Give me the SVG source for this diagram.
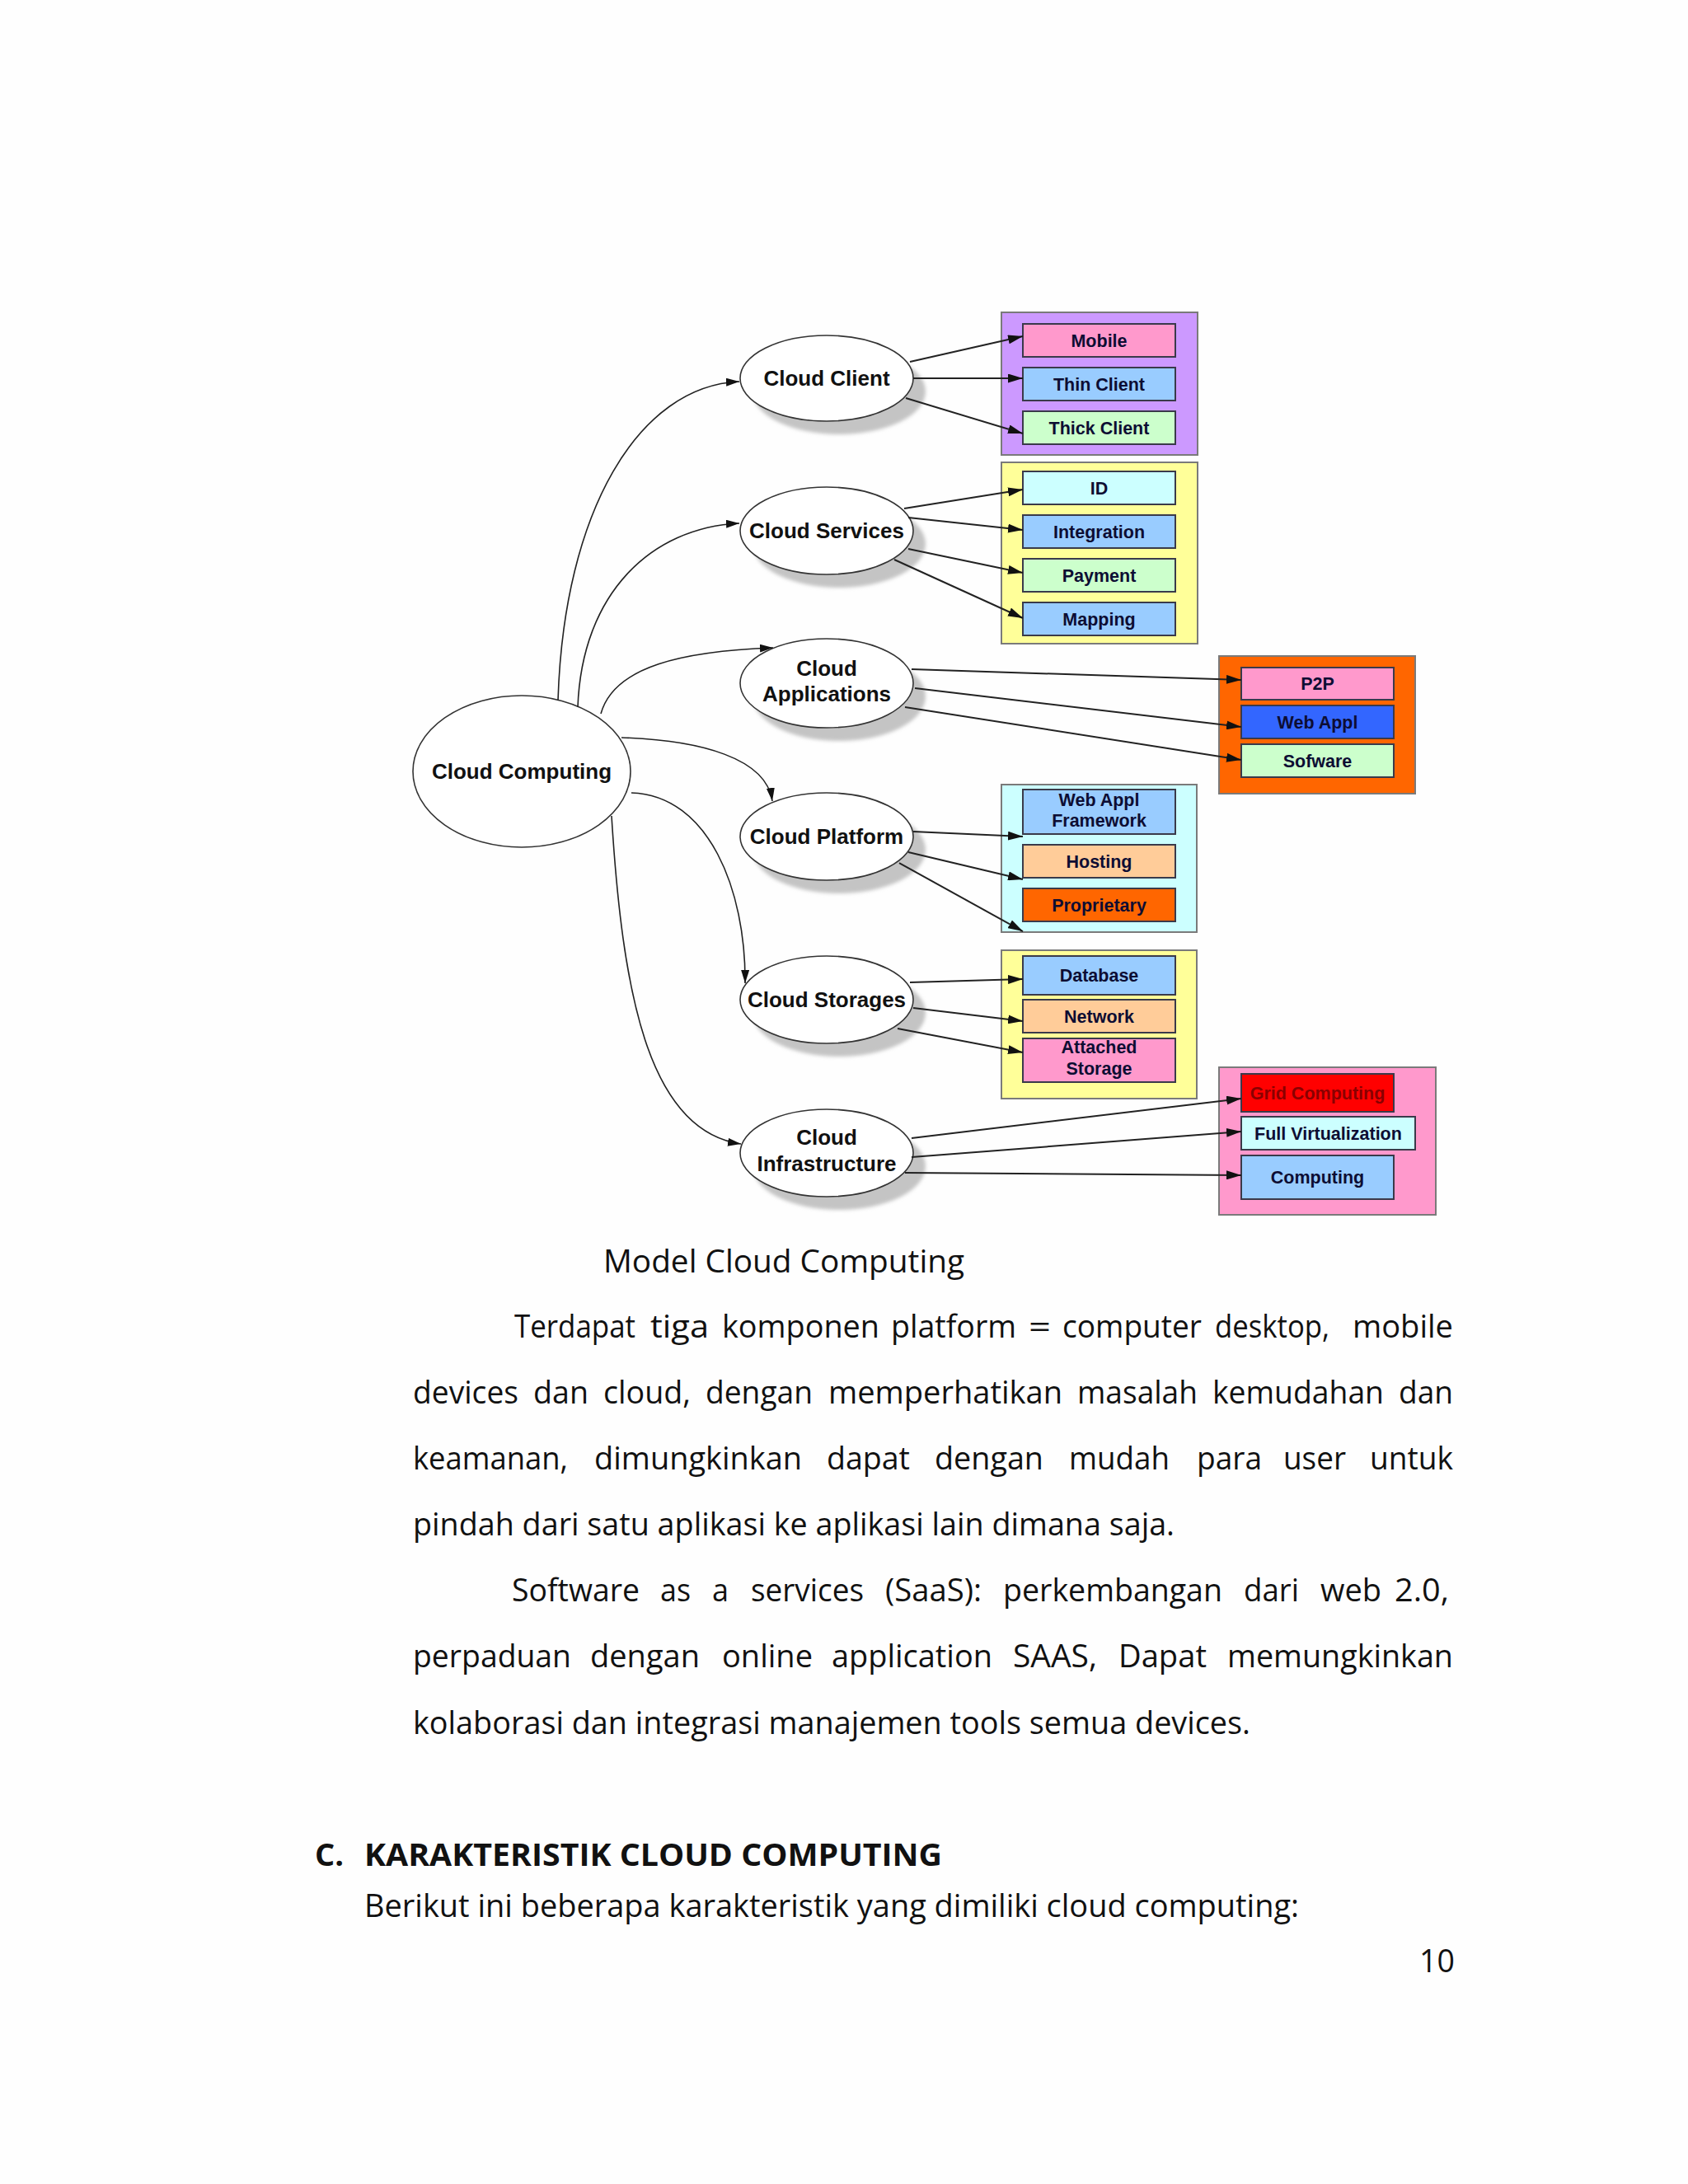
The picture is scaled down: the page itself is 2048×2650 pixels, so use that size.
<svg xmlns="http://www.w3.org/2000/svg" width="2048" height="2650" viewBox="0 0 2048 2650">
<style>
.ell{fill:#fff;stroke:#333;stroke-width:1.6}
.shd{fill:#c4c4c4}
.nl{font-family:"Liberation Sans",Arial,sans-serif;font-weight:bold;font-size:26px;text-anchor:middle;fill:#111}
.grp{stroke:#7a7a7a;stroke-width:2}
.box{stroke:#3a3a4a;stroke-width:2}
.bl{font-family:"Liberation Sans",Arial,sans-serif;font-weight:bold;font-size:21.5px;text-anchor:middle;fill:#0d0d33}
.cc{fill:none;stroke:#222;stroke-width:1.6}
.ca{fill:none;stroke:#222;stroke-width:2}
.body{font-family:"Open Sans","Noto Sans",sans-serif;font-size:37.5px;fill:#111}
.hd{font-family:"Open Sans","Noto Sans",sans-serif;font-weight:bold;font-size:38px;fill:#111}
</style>
<defs>
<marker id="ah" viewBox="0 0 18 11" refX="18" refY="5.5" markerWidth="18" markerHeight="11" markerUnits="userSpaceOnUse" orient="auto"><path d="M0,0 L18,5.5 L0,11 z" fill="#111"/></marker>
<marker id="ahs" viewBox="0 0 16 10" refX="16" refY="5" markerWidth="16" markerHeight="10" markerUnits="userSpaceOnUse" orient="auto"><path d="M0,0 L16,5 L0,10 z" fill="#111"/></marker>
<filter id="blur" x="-20%" y="-20%" width="140%" height="140%"><feGaussianBlur stdDeviation="2"/></filter>
</defs>
<rect width="2048" height="2650" fill="#fefefe"/>

<!-- group boxes -->
<g id="grp-client"><rect class="grp" x="1215" y="379" width="238" height="173" fill="#cc99ff"/></g>
<g id="grp-services"><rect class="grp" x="1215" y="561" width="238" height="220" fill="#ffff99"/></g>
<g id="grp-apps"><rect class="grp" x="1479" y="796" width="238" height="167" fill="#ff6600"/></g>
<g id="grp-platform"><rect class="grp" x="1215" y="952" width="237" height="179" fill="#ccffff"/></g>
<g id="grp-storages"><rect class="grp" x="1215" y="1153" width="237" height="180" fill="#ffff99"/></g>
<g id="grp-infra"><rect class="grp" x="1479" y="1295" width="263" height="179" fill="#ff99cc"/></g>

<!-- leaf boxes -->
<g id="mobile"><rect class="box" x="1241" y="393" width="185" height="40" fill="#ff99cc"/><text class="bl" x="1333.5" y="421">Mobile</text></g>
<g id="thin-client"><rect class="box" x="1241" y="446" width="185" height="40" fill="#99ccff"/><text class="bl" x="1333.5" y="474">Thin Client</text></g>
<g id="thick-client"><rect class="box" x="1241" y="499" width="185" height="40" fill="#ccffcc"/><text class="bl" x="1333.5" y="527">Thick Client</text></g>

<g id="id"><rect class="box" x="1241" y="572" width="185" height="40" fill="#ccffff"/><text class="bl" x="1333.5" y="600">ID</text></g>
<g id="integration"><rect class="box" x="1241" y="625" width="185" height="40" fill="#99ccff"/><text class="bl" x="1333.5" y="653">Integration</text></g>
<g id="payment"><rect class="box" x="1241" y="678" width="185" height="40" fill="#ccffcc"/><text class="bl" x="1333.5" y="706">Payment</text></g>
<g id="mapping"><rect class="box" x="1241" y="731" width="185" height="40" fill="#99ccff"/><text class="bl" x="1333.5" y="759">Mapping</text></g>

<g id="p2p"><rect class="box" x="1506" y="810" width="185" height="39" fill="#ff99cc"/><text class="bl" x="1598.5" y="837">P2P</text></g>
<g id="web-appl"><rect class="box" x="1506" y="856" width="185" height="40" fill="#3366ff"/><text class="bl" x="1598.5" y="884">Web Appl</text></g>
<g id="sofware"><rect class="box" x="1506" y="903" width="185" height="40" fill="#ccffcc"/><text class="bl" x="1598.5" y="931">Sofware</text></g>

<g id="web-appl-framework"><rect class="box" x="1241" y="958" width="185" height="54" fill="#99ccff"/><text class="bl" x="1333.5" y="978">Web Appl</text><text class="bl" x="1333.5" y="1003">Framework</text></g>
<g id="hosting"><rect class="box" x="1241" y="1025" width="185" height="40" fill="#ffcc99"/><text class="bl" x="1333.5" y="1053">Hosting</text></g>
<g id="proprietary"><rect class="box" x="1241" y="1078" width="185" height="40" fill="#ff6600"/><text class="bl" x="1333.5" y="1106">Proprietary</text></g>

<g id="database"><rect class="box" x="1241" y="1160" width="185" height="47" fill="#99ccff"/><text class="bl" x="1333.5" y="1191">Database</text></g>
<g id="network"><rect class="box" x="1241" y="1213" width="185" height="40" fill="#ffcc99"/><text class="bl" x="1333.5" y="1241">Network</text></g>
<g id="attached-storage"><rect class="box" x="1241" y="1260" width="185" height="53" fill="#ff99cc"/><text class="bl" x="1333.5" y="1278">Attached</text><text class="bl" x="1333.5" y="1304">Storage</text></g>

<g id="grid-computing"><rect class="box" x="1506" y="1303" width="185" height="46" fill="#ff0000"/><text class="bl" x="1598.5" y="1334" style="fill:#8a0000">Grid Computing</text></g>
<g id="full-virtualization"><rect class="box" x="1506" y="1355" width="211" height="40" fill="#ccffff"/><text class="bl" x="1611.5" y="1383">Full Virtualization</text></g>
<g id="computing"><rect class="box" x="1506" y="1402" width="185" height="53" fill="#99ccff"/><text class="bl" x="1598.5" y="1436">Computing</text></g>

<!-- ellipse nodes -->
<g id="cloud-computing"><ellipse class="ell" cx="633" cy="936" rx="132" ry="92"/><text class="nl" x="633" y="945">Cloud Computing</text></g>
<g id="cloud-client"><ellipse class="shd" cx="1018" cy="475" rx="105" ry="52" filter="url(#blur)"/><ellipse class="ell" cx="1003" cy="459" rx="105" ry="52"/><text class="nl" x="1003" y="468">Cloud Client</text></g>
<g id="cloud-services"><ellipse class="shd" cx="1018" cy="660" rx="105" ry="53" filter="url(#blur)"/><ellipse class="ell" cx="1003" cy="644" rx="105" ry="53"/><text class="nl" x="1003" y="653">Cloud Services</text></g>
<g id="cloud-applications"><ellipse class="shd" cx="1018" cy="845" rx="105" ry="54" filter="url(#blur)"/><ellipse class="ell" cx="1003" cy="829" rx="105" ry="54"/><text class="nl" x="1003" y="820">Cloud</text><text class="nl" x="1003" y="851">Applications</text></g>
<g id="cloud-platform"><ellipse class="shd" cx="1018" cy="1031" rx="105" ry="53" filter="url(#blur)"/><ellipse class="ell" cx="1003" cy="1015" rx="105" ry="53"/><text class="nl" x="1003" y="1024">Cloud Platform</text></g>
<g id="cloud-storages"><ellipse class="shd" cx="1018" cy="1229" rx="105" ry="53" filter="url(#blur)"/><ellipse class="ell" cx="1003" cy="1213" rx="105" ry="53"/><text class="nl" x="1003" y="1222">Cloud Storages</text></g>
<g id="cloud-infrastructure"><ellipse class="shd" cx="1018" cy="1415" rx="105" ry="53" filter="url(#blur)"/><ellipse class="ell" cx="1003" cy="1399" rx="105" ry="53"/><text class="nl" x="1003" y="1389">Cloud</text><text class="nl" x="1003" y="1421">Infrastructure</text></g>

<!-- connectors -->
<g id="connectors">
<path class="cc" marker-end="url(#ahs)" d="M677 850 C684 620 775 468 897 463"/>
<path class="cc" marker-end="url(#ahs)" d="M701 858 C706 720 790 640 897 635"/>
<path class="cc" marker-end="url(#ahs)" d="M729 866 C745 808 830 790 938 786"/>
<path class="cc" marker-end="url(#ahs)" d="M754 895 C850 898 930 920 937 972"/>
<path class="cc" marker-end="url(#ahs)" d="M766 962 C860 965 905 1080 904 1193"/>
<path class="cc" marker-end="url(#ahs)" d="M742 990 C755 1200 785 1372 899 1388"/>

<line class="ca" marker-end="url(#ah)" x1="1104" y1="439" x2="1241" y2="408"/>
<line class="ca" marker-end="url(#ah)" x1="1108" y1="459" x2="1241" y2="459"/>
<line class="ca" marker-end="url(#ah)" x1="1099" y1="483" x2="1241" y2="526"/>

<line class="ca" marker-end="url(#ah)" x1="1097" y1="617" x2="1241" y2="594"/>
<line class="ca" marker-end="url(#ah)" x1="1102" y1="628" x2="1241" y2="643"/>
<line class="ca" marker-end="url(#ah)" x1="1102" y1="666" x2="1241" y2="695"/>
<line class="ca" marker-end="url(#ah)" x1="1085" y1="679" x2="1241" y2="750"/>

<line class="ca" marker-end="url(#ah)" x1="1106" y1="812" x2="1506" y2="825"/>
<line class="ca" marker-end="url(#ah)" x1="1110" y1="835" x2="1506" y2="882"/>
<line class="ca" marker-end="url(#ah)" x1="1098" y1="858" x2="1506" y2="922"/>

<line class="ca" marker-end="url(#ah)" x1="1108" y1="1009" x2="1241" y2="1015"/>
<line class="ca" marker-end="url(#ah)" x1="1102" y1="1034" x2="1241" y2="1067"/>
<line class="ca" marker-end="url(#ah)" x1="1091" y1="1047" x2="1241" y2="1130"/>

<line class="ca" marker-end="url(#ah)" x1="1104" y1="1192" x2="1241" y2="1188"/>
<line class="ca" marker-end="url(#ah)" x1="1108" y1="1223" x2="1241" y2="1239"/>
<line class="ca" marker-end="url(#ah)" x1="1089" y1="1248" x2="1241" y2="1277"/>

<line class="ca" marker-end="url(#ah)" x1="1106" y1="1381" x2="1506" y2="1333"/>
<line class="ca" marker-end="url(#ah)" x1="1106" y1="1404" x2="1506" y2="1373"/>
<line class="ca" marker-end="url(#ah)" x1="1098" y1="1423" x2="1506" y2="1426"/>
</g>

<!-- page text -->
<text class="body" x="732" y="1544" textLength="438" lengthAdjust="spacingAndGlyphs">Model Cloud Computing</text>

<g id="line1">
<text class="body" x="624" y="1623" textLength="147" lengthAdjust="spacingAndGlyphs">Terdapat</text>
<text class="body" x="789" y="1623" textLength="71" lengthAdjust="spacingAndGlyphs">tiga</text>
<text class="body" x="876" y="1623" textLength="191" lengthAdjust="spacingAndGlyphs">komponen</text>
<text class="body" x="1081" y="1623" textLength="152" lengthAdjust="spacingAndGlyphs">platform</text>
<text class="body" x="1248" y="1623" textLength="27" lengthAdjust="spacingAndGlyphs">=</text>
<text class="body" x="1289" y="1623" textLength="169" lengthAdjust="spacingAndGlyphs">computer</text>
<text class="body" x="1474" y="1623" textLength="139" lengthAdjust="spacingAndGlyphs">desktop,</text>
<text class="body" x="1641" y="1623" textLength="122" lengthAdjust="spacingAndGlyphs">mobile</text>
</g>
<g id="line2">
<text class="body" x="501" y="1703" textLength="128" lengthAdjust="spacingAndGlyphs">devices</text>
<text class="body" x="647" y="1703" textLength="67" lengthAdjust="spacingAndGlyphs">dan</text>
<text class="body" x="732" y="1703" textLength="106" lengthAdjust="spacingAndGlyphs">cloud,</text>
<text class="body" x="856" y="1703" textLength="130" lengthAdjust="spacingAndGlyphs">dengan</text>
<text class="body" x="1005" y="1703" textLength="284" lengthAdjust="spacingAndGlyphs">memperhatikan</text>
<text class="body" x="1307" y="1703" textLength="146" lengthAdjust="spacingAndGlyphs">masalah</text>
<text class="body" x="1471" y="1703" textLength="208" lengthAdjust="spacingAndGlyphs">kemudahan</text>
<text class="body" x="1697" y="1703" textLength="66" lengthAdjust="spacingAndGlyphs">dan</text>
</g>
<g id="line3">
<text class="body" x="501" y="1783" textLength="188" lengthAdjust="spacingAndGlyphs">keamanan,</text>
<text class="body" x="721" y="1783" textLength="252" lengthAdjust="spacingAndGlyphs">dimungkinkan</text>
<text class="body" x="1003" y="1783" textLength="101" lengthAdjust="spacingAndGlyphs">dapat</text>
<text class="body" x="1134" y="1783" textLength="132" lengthAdjust="spacingAndGlyphs">dengan</text>
<text class="body" x="1297" y="1783" textLength="122" lengthAdjust="spacingAndGlyphs">mudah</text>
<text class="body" x="1452" y="1783" textLength="79" lengthAdjust="spacingAndGlyphs">para</text>
<text class="body" x="1557" y="1783" textLength="76" lengthAdjust="spacingAndGlyphs">user</text>
<text class="body" x="1662" y="1783" textLength="101" lengthAdjust="spacingAndGlyphs">untuk</text>
</g>
<text class="body" x="501" y="1863" textLength="924" lengthAdjust="spacingAndGlyphs">pindah dari satu aplikasi ke aplikasi lain dimana saja.</text>
<g id="line5">
<text class="body" x="621" y="1943" textLength="155" lengthAdjust="spacingAndGlyphs">Software</text>
<text class="body" x="801" y="1943" textLength="37" lengthAdjust="spacingAndGlyphs">as</text>
<text class="body" x="864" y="1943" textLength="20" lengthAdjust="spacingAndGlyphs">a</text>
<text class="body" x="911" y="1943" textLength="137" lengthAdjust="spacingAndGlyphs">services</text>
<text class="body" x="1074" y="1943" textLength="117" lengthAdjust="spacingAndGlyphs">(SaaS):</text>
<text class="body" x="1217" y="1943" textLength="266" lengthAdjust="spacingAndGlyphs">perkembangan</text>
<text class="body" x="1509" y="1943" textLength="67" lengthAdjust="spacingAndGlyphs">dari</text>
<text class="body" x="1602" y="1943" textLength="74" lengthAdjust="spacingAndGlyphs">web</text>
<text class="body" x="1692" y="1943" textLength="66" lengthAdjust="spacingAndGlyphs">2.0,</text>
</g>
<g id="line6">
<text class="body" x="501" y="2023" textLength="192" lengthAdjust="spacingAndGlyphs">perpaduan</text>
<text class="body" x="716" y="2023" textLength="133" lengthAdjust="spacingAndGlyphs">dengan</text>
<text class="body" x="876" y="2023" textLength="110" lengthAdjust="spacingAndGlyphs">online</text>
<text class="body" x="1009" y="2023" textLength="195" lengthAdjust="spacingAndGlyphs">application</text>
<text class="body" x="1229" y="2023" textLength="102" lengthAdjust="spacingAndGlyphs">SAAS,</text>
<text class="body" x="1357" y="2023" textLength="107" lengthAdjust="spacingAndGlyphs">Dapat</text>
<text class="body" x="1489" y="2023" textLength="274" lengthAdjust="spacingAndGlyphs">memungkinkan</text>
</g>
<text class="body" x="501" y="2104" textLength="1016" lengthAdjust="spacingAndGlyphs">kolaborasi dan integrasi manajemen tools semua devices.</text>

<text class="hd" x="382" y="2264">C.</text>
<text class="hd" x="442" y="2264" textLength="701" lengthAdjust="spacingAndGlyphs">KARAKTERISTIK CLOUD COMPUTING</text>
<text class="body" x="442" y="2326" textLength="1134" lengthAdjust="spacingAndGlyphs">Berikut ini beberapa karakteristik yang dimiliki cloud computing:</text>
<text class="body" x="1765" y="2393" text-anchor="end">10</text>
</svg>
